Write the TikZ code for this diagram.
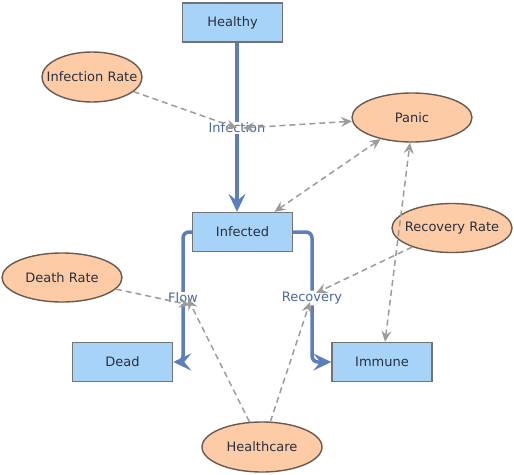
\documentclass[tikz,border=0pt]{standalone}
\usepackage{fontspec}
\setmainfont{DejaVu Sans}
\usetikzlibrary{arrows.meta,calc,shapes.geometric}
\definecolor{boxfill}{RGB}{166,211,247}
\definecolor{boxline}{RGB}{115,115,115}
\definecolor{ellfill}{RGB}{253,203,165}
\definecolor{ellline}{RGB}{105,90,80}
\definecolor{flowcol}{RGB}{93,126,190}
\definecolor{lblcol}{RGB}{74,104,160}
\definecolor{depcol}{RGB}{155,155,155}
\definecolor{txtcol}{RGB}{40,48,64}
\newcommand\zerow[1]{\makebox[0pt]{#1}}
\tikzset{
  stockbox/.style={draw=boxline, line width=1.4pt, fill=boxfill, minimum width=100pt, minimum height=39pt, inner sep=0pt, text=txtcol, font=\fontsize{13}{15}\selectfont},
  auxell/.style={draw=ellline, line width=1.4pt, fill=ellfill, ellipse, text=txtcol, font=\fontsize{13}{15}\selectfont, inner sep=0pt},
  flowlbl/.style={fill=white, text=lblcol, inner sep=1pt, font=\fontsize{13}{15}\selectfont},
  flowline/.style={draw=flowcol, line width=3.5pt, rounded corners=6pt},
  flowtip/.style={flowline, -{Stealth[length=18pt,width=17pt,inset=7pt]}},
  dep/.style={draw=depcol, line width=1.5pt, dash pattern=on 6pt off 4pt, -{Stealth[length=11pt,width=10pt,inset=4pt]}},
  depboth/.style={dep, {Stealth[length=11pt,width=10pt,inset=4pt]}-{Stealth[length=11pt,width=10pt,inset=4pt]}}
}
\begin{document}
\begin{tikzpicture}[x=1pt,y=-1pt]
\useasboundingbox (0,0) rectangle (514,474);
% nodes
\node[stockbox] (healthy) at (232.5,22.5) {Healthy};
\node[auxell, minimum width=100pt, minimum height=50pt] (infrate) at (92,77) {\zerow{Infection Rate}};
\node[auxell, minimum width=120pt, minimum height=49pt] (panic) at (412,117.5) {\zerow{Panic}};
\node[flowlbl] (infection) at (237,128) {Infection};
\node[stockbox] (infected) at (242.5,232) {Infected};
\node[auxell, minimum width=120pt, minimum height=49pt] (recrate) at (452,228) {\zerow{Recovery Rate}};
\node[auxell, minimum width=120pt, minimum height=49pt] (deathrate) at (62,277.5) {\zerow{Death Rate}};
\node[flowlbl] (flow) at (183,298) {Flow};
\node[flowlbl] (recovery) at (312,298) {Recovery};
\node[stockbox] (dead) at (122.5,362) {Dead};
\node[stockbox] (immune) at (382,362) {Immune};
\node[auxell, minimum width=120pt, minimum height=50pt] (healthcare) at (262,447) {\zerow{Healthcare}};
% flows
\draw[flowline] (healthy.south -| infection.center) -- (infection.north);
\draw[flowtip] (infection.south) -- (infected.north -| infection.center);
\draw[flowline] (infected.west) -| (flow.north);
\draw[flowtip] (flow.south) |- (dead.east);
\draw[flowline] (infected.east) -| (recovery.north);
\draw[flowtip] (recovery.south) |- (immune.west);
% dependencies
\draw[dep] (infrate) -- (infection.center);
\draw[depboth] ([xshift=6pt]infection.center) -- (panic);
\draw[depboth] ($(infected.north)+(32,0)$) -- (panic);
\draw[depboth] ([xshift=3pt]immune.north) -- ([xshift=-2pt]panic.south);
\draw[dep] (recrate) -- ([shift={(4,-5)}]recovery.center);
\draw[dep] (deathrate) -- ([shift={(7,7)}]flow.center);
\draw[dep] (healthcare) -- ([shift={(5,1)}]flow.center);
\draw[dep] (healthcare) -- ([shift={(-2,4)}]recovery.center);
\end{tikzpicture}
\end{document}
